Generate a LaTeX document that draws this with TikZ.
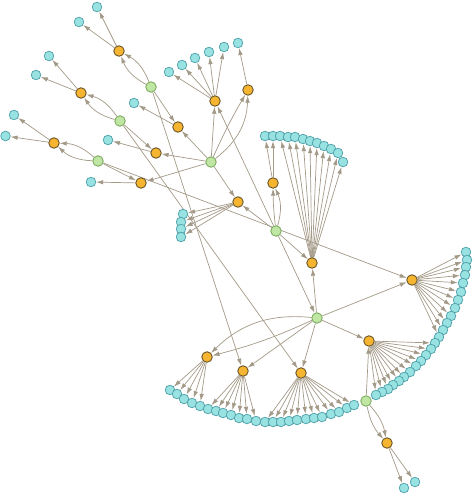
\documentclass[tikz,border=0pt]{standalone}
\usetikzlibrary{arrows.meta}
\definecolor{leaffill}{HTML}{98E2E2}
\definecolor{leafline}{HTML}{4FA2AA}
\definecolor{midfill}{HTML}{F6B530}
\definecolor{midline}{HTML}{6A5628}
\definecolor{hubfill}{HTML}{BFE6A2}
\definecolor{hubline}{HTML}{7EAC62}
\definecolor{edgecol}{HTML}{A39987}
\pgfdeclarelayer{bg}
\pgfsetlayers{bg,main}
\tikzset{
  leaf/.style={
    draw=leafline, fill=leaffill, circle, minimum size=9.6pt, inner sep=0pt, line width=0.75pt
  },
  mid/.style={
    draw=midline, fill=midfill, circle, minimum size=10.5pt, inner sep=0pt, line width=0.9pt
  },
  hub/.style={
    draw=hubline, fill=hubfill, circle, minimum size=10.5pt, inner sep=0pt, line width=0.9pt
  },
  edge/.style={
    draw=edgecol, line width=0.7pt, -{Latex[length=7pt,width=4.5pt]}
  }
}

\begin{document}
\begin{tikzpicture}[x=1pt, y=-1pt]
  \useasboundingbox (0,0) rectangle (474,497);
  % hubs
  \node[hub] (g1) at (151,87) {};
  \node[hub] (g2) at (120,121) {};
  \node[hub] (g3) at (98,161) {};
  \node[hub] (g4) at (211,162) {};
  \node[hub] (g5) at (276,231) {};
  \node[hub] (g6) at (317,318) {};
  \node[hub] (g7) at (366,401) {};
  % middle nodes
  \node[mid] (o1) at (119,51) {};
  \node[mid] (o2) at (81,93) {};
  \node[mid] (o3) at (54,143) {};
  \node[mid] (o4) at (141,183) {};
  \node[mid] (o5) at (156,153) {};
  \node[mid] (o6) at (178,127) {};
  \node[mid] (o7) at (215,101) {};
  \node[mid] (o8) at (248,90) {};
  \node[mid] (o9) at (238,202) {};
  \node[mid] (o10) at (273,183) {};
  \node[mid] (o11) at (312,263) {};
  \node[mid] (o12) at (412,280) {};
  \node[mid] (o13) at (369,341) {};
  \node[mid] (o14) at (207,357) {};
  \node[mid] (o15) at (243,371) {};
  \node[mid] (o16) at (301,373) {};
  \node[mid] (o17) at (387,443) {};
  % single leaves
  \node[leaf] (l1a) at (97,7) {};
  \node[leaf] (l1b) at (79,22) {};
  \node[leaf] (l2a) at (49,56) {};
  \node[leaf] (l2b) at (36,75) {};
  \node[leaf] (l3a) at (14,115) {};
  \node[leaf] (l3b) at (5.5,136) {};
  \node[leaf] (l4a) at (91,182) {};
  \node[leaf] (l5a) at (108,140) {};
  \node[leaf] (l6a) at (134,103) {};
  \node[leaf] (l8a) at (238,43) {};
  \node[leaf] (l17a) at (404,488) {};
  \node[leaf] (l17b) at (415,482) {};
  % leaf groups
  \foreach \i/\x/\y in {1/169/72, 2/182/65, 3/195/58, 4/209/52, 5/224/47}
    \node[leaf] (p\i) at (\x,\y) {};
  \foreach \i/\x/\y in {1/183/214, 2/181/222, 3/181/229, 4/181/237}
    \node[leaf] (q\i) at (\x,\y) {};
  \foreach \i/\x/\y in {1/265/136, 2/273/136, 3/280/136, 4/288/137, 5/295/137, 6/303/139,
      7/310/141, 8/317/143, 9/324/146, 10/331/149, 11/338/153, 12/343/162}
    \node[leaf] (t\i) at (\x,\y) {};
  \foreach \i/\x/\y in {1/466/252, 2/467/260, 3/466/267, 4/465/275, 5/463/283, 6/461/292,
      7/458/300, 8/455/308, 9/451/316, 10/447/323, 11/443/330, 12/439/337,
      13/435/343, 14/431/349, 15/426/355, 16/421/361, 17/416/366, 18/410/372,
      19/404/377, 20/399/381, 21/393/385, 22/388/389, 23/382/392, 24/376/395}
    \node[leaf] (r\i) at (\x,\y) {};
  \foreach \i/\x/\y in {1/170/390, 2/177/394, 3/184/399, 4/192/403, 5/200/406, 6/208/409,
      7/216/411, 8/223/413, 9/231/415, 10/239/418, 11/247/419, 12/256/421,
      13/265/422, 14/273/422, 15/281/422, 16/289/421, 17/297/420, 18/306/419,
      19/314/418, 20/322/417, 21/331/414, 22/339/412, 23/347/408, 24/354/405}
    \node[leaf] (b\i) at (\x,\y) {};

  \begin{pgfonlayer}{bg}
    % hub edges
    \draw[edge] (g1) to[bend left=20] (o1);
    \draw[edge] (g1) to[bend right=20] (o1);
    \draw[edge] (g1) -- (o6);
    \draw[edge] (g1) -- (o15);
    \draw[edge] (g2) to[bend left=20] (o2);
    \draw[edge] (g2) to[bend right=20] (o2);
    \draw[edge] (g2) -- (o5);
    \draw[edge] (g2) -- (o16);
    \draw[edge] (g3) to[bend left=20] (o3);
    \draw[edge] (g3) to[bend right=20] (o3);
    \draw[edge] (g3) -- (o4);
    \draw[edge] (g3) -- (o12);
    \draw[edge] (g4) -- (o7);
    \draw[edge] (g4) to[bend left=3] (o8);
    \draw[edge] (g4) to[bend right=25] (o8);
    \draw[edge] (g4) -- (o6);
    \draw[edge] (g4) -- (o5);
    \draw[edge] (g4) -- (o4);
    \draw[edge] (g4) -- (o9);
    \draw[edge] (g5) -- (o7);
    \draw[edge] (g5) -- (o9);
    \draw[edge] (g5) to[bend left=3] (o10);
    \draw[edge] (g5) to[bend right=20] (o10);
    \draw[edge] (g5) -- (o11);
    \draw[edge] (g5) -- (g6);
    \draw[edge] (g6) -- (o11);
    \draw[edge] (g6) -- (o12);
    \draw[edge] (g6) -- (o13);
    \draw[edge] (g6) to[bend right=25] (o14);
    \draw[edge] (g6) to[bend left=5] (o14);
    \draw[edge] (g6) -- (o15);
    \draw[edge] (g6) -- (o16);
    \draw[edge] (g7) -- (o13);
    \draw[edge] (g7) to[bend left=15] (o17);
    \draw[edge] (g7) to[bend right=15] (o17);
    % leaf edges
    \draw[edge] (o1) -- (l1a);
    \draw[edge] (o1) -- (l1b);
    \draw[edge] (o2) -- (l2a);
    \draw[edge] (o2) -- (l2b);
    \draw[edge] (o3) -- (l3a);
    \draw[edge] (o3) -- (l3b);
    \draw[edge] (o4) -- (l4a);
    \draw[edge] (o5) -- (l5a);
    \draw[edge] (o6) -- (l6a);
    \draw[edge] (o8) -- (l8a);
    \draw[edge] (o17) -- (l17a);
    \draw[edge] (o17) -- (l17b);
    \foreach \i in {1,...,5} \draw[edge] (o7) -- (p\i);
    \foreach \i in {1,...,4} \draw[edge] (o9) -- (q\i);
    \foreach \i in {1,2} \draw[edge] (o10) -- (t\i);
    \foreach \i in {3,...,12} \draw[edge] (o11) -- (t\i);
    \foreach \i in {1,...,12} \draw[edge] (o12) -- (r\i);
    \foreach \i in {13,...,24} \draw[edge] (o13) -- (r\i);
    \foreach \i in {1,...,5} \draw[edge] (o14) -- (b\i);
    \foreach \i in {6,...,12} \draw[edge] (o15) -- (b\i);
    \foreach \i in {13,...,24} \draw[edge] (o16) -- (b\i);
  \end{pgfonlayer}
\end{tikzpicture}
\end{document}
